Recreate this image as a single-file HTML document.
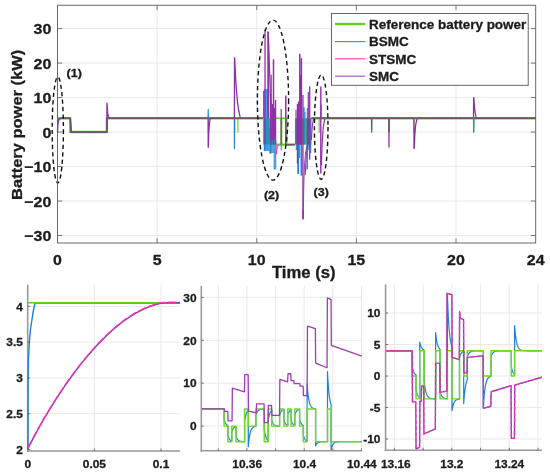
<!DOCTYPE html>
<html><head><meta charset="utf-8"><title>Battery power</title>
<style>html,body{margin:0;padding:0;background:#fff}svg{display:block}text{stroke:#1c1c1c;stroke-width:.3px}</style></head>
<body>
<svg width="550" height="476" viewBox="0 0 550 476" font-family="'Liberation Sans', sans-serif" font-weight="bold" fill="#1c1c1c">
<rect width="550" height="476" fill="#fff"/>
<line x1="157.12" y1="5.25" x2="157.12" y2="243.00" stroke="#e9e9e9" stroke-width="1" />
<line x1="256.75" y1="5.25" x2="256.75" y2="243.00" stroke="#e9e9e9" stroke-width="1" />
<line x1="356.38" y1="5.25" x2="356.38" y2="243.00" stroke="#e9e9e9" stroke-width="1" />
<line x1="456.00" y1="5.25" x2="456.00" y2="243.00" stroke="#e9e9e9" stroke-width="1" />
<line x1="57.50" y1="235.49" x2="535.70" y2="235.49" stroke="#e9e9e9" stroke-width="1" />
<line x1="57.50" y1="201.01" x2="535.70" y2="201.01" stroke="#e9e9e9" stroke-width="1" />
<line x1="57.50" y1="166.53" x2="535.70" y2="166.53" stroke="#e9e9e9" stroke-width="1" />
<line x1="57.50" y1="132.05" x2="535.70" y2="132.05" stroke="#e9e9e9" stroke-width="1" />
<line x1="57.50" y1="97.57" x2="535.70" y2="97.57" stroke="#e9e9e9" stroke-width="1" />
<line x1="57.50" y1="63.09" x2="535.70" y2="63.09" stroke="#e9e9e9" stroke-width="1" />
<line x1="57.50" y1="28.61" x2="535.70" y2="28.61" stroke="#e9e9e9" stroke-width="1" />
<g id="main-curves">
<polyline points="57.50,118.26 70.30,118.26 70.30,132.05 106.90,132.05 106.90,118.26 262.90,118.26" fill="none" stroke="#62d016" stroke-width="2.4" stroke-linejoin="round" />
<rect x="262.9" y="118.26" width="12.9" height="26.34" fill="#62d016"/>
<rect x="280.3" y="118.26" width="2" height="26.34" fill="#62d016"/>
<rect x="294.9" y="118.26" width="16.5" height="26.34" fill="#62d016"/>
<polyline points="275.50,118.26 286.70,118.26 286.70,144.60 294.90,144.60" fill="none" stroke="#62d016" stroke-width="1.6" stroke-linejoin="round" />
<polyline points="275.50,144.60 294.90,144.60" fill="none" stroke="#62d016" stroke-width="2.2" stroke-linejoin="round" />
<polyline points="311.40,118.26 535.70,118.26" fill="none" stroke="#62d016" stroke-width="2.4" stroke-linejoin="round" />
<line x1="208.20" y1="118.26" x2="208.20" y2="132.65" stroke="#62d016" stroke-width="0.8" />
<line x1="234.60" y1="118.26" x2="234.60" y2="132.65" stroke="#62d016" stroke-width="1.3" />
<line x1="237.90" y1="118.26" x2="237.90" y2="132.65" stroke="#62d016" stroke-width="1.1" />
<line x1="319.20" y1="118.26" x2="319.20" y2="132.65" stroke="#62d016" stroke-width="1.2" />
<line x1="371.60" y1="118.26" x2="371.60" y2="132.65" stroke="#62d016" stroke-width="1.2" />
<line x1="389.00" y1="118.26" x2="389.00" y2="132.65" stroke="#62d016" stroke-width="1.2" />
<line x1="414.00" y1="118.26" x2="414.00" y2="132.65" stroke="#62d016" stroke-width="1.0" />
<line x1="473.60" y1="118.26" x2="473.60" y2="132.65" stroke="#62d016" stroke-width="1.3" />
<polyline points="57.50,132.05 57.80,121.71 59.00,118.26 70.30,118.26 70.90,132.05 106.90,132.05 107.20,118.26 208.00,118.26 208.20,109.40 208.40,118.26 234.30,118.26 234.40,148.60 234.60,118.26 262.90,118.26" fill="none" stroke="#1c82d8" stroke-width="1.1" stroke-linejoin="round" />
<rect x="263.7" y="89" width="5.5" height="62" fill="#1c82d8" fill-opacity="0.8"/>
<rect x="269.2" y="128" width="6.2" height="25" fill="#1c82d8" fill-opacity="0.75"/>
<rect x="273.6" y="140" width="2.7" height="29.5" fill="#4aa0e0"/>
<line x1="264.80" y1="118.26" x2="264.80" y2="151.00" stroke="#1c82d8" stroke-width="1.4" />
<line x1="270.50" y1="118.26" x2="270.50" y2="153.70" stroke="#1c82d8" stroke-width="1.6" />
<line x1="281.20" y1="144.60" x2="281.20" y2="150.40" stroke="#1c82d8" stroke-width="1.0" />
<line x1="298.10" y1="118.26" x2="298.10" y2="174.00" stroke="#1c82d8" stroke-width="1.7" />
<line x1="301.40" y1="118.26" x2="301.40" y2="175.60" stroke="#1c82d8" stroke-width="1.7" />
<line x1="304.00" y1="107.30" x2="304.00" y2="144.60" stroke="#1c82d8" stroke-width="1.3" />
<line x1="305.00" y1="112.00" x2="305.00" y2="144.60" stroke="#1c82d8" stroke-width="1.0" />
<line x1="307.20" y1="118.26" x2="307.20" y2="169.60" stroke="#1c82d8" stroke-width="1.5" />
<line x1="310.70" y1="118.26" x2="310.70" y2="153.20" stroke="#1c82d8" stroke-width="1.1" />
<line x1="296.30" y1="118.26" x2="296.30" y2="150.00" stroke="#1c82d8" stroke-width="1.0" />
<line x1="299.60" y1="118.26" x2="299.60" y2="158.00" stroke="#1c82d8" stroke-width="1.0" />
<line x1="321.20" y1="104.40" x2="321.20" y2="118.26" stroke="#1c82d8" stroke-width="1.1" />
<line x1="308.20" y1="118.26" x2="308.20" y2="150.00" stroke="#1c82d8" stroke-width="1.0" />
<polyline points="311.40,118.26 371.50,118.26 371.60,132.05 371.80,118.26 473.50,118.26 473.60,132.05 473.90,118.26 535.70,118.26" fill="none" stroke="#1c82d8" stroke-width="1.1" stroke-linejoin="round" />
<polyline points="276.00,144.60 276.20,154.20 277.00,149.00 278.50,144.60" fill="none" stroke="#ff2fb4" stroke-width="1.0" stroke-linejoin="round" />
<line x1="302.95" y1="210.00" x2="302.95" y2="219.60" stroke="#ff2fb4" stroke-width="1.3" />
<polyline points="57.50,132.05 57.70,125.15 58.09,122.88 58.48,121.32 58.86,120.25 59.25,119.52 59.64,119.01 60.02,118.66 60.41,118.42 60.80,118.26 70.30,118.26 71.30,132.05 106.90,132.05 106.90,103.20 107.00,103.20 107.29,108.16 107.58,111.56 107.86,113.90 108.15,115.51 108.44,116.62 108.72,117.38 109.01,117.90 109.30,118.26 208.20,118.26 208.20,147.30 208.30,147.30 208.59,137.74 208.88,131.17 209.16,126.66 209.45,123.56 209.74,121.42 210.03,119.96 210.31,118.95 210.60,118.26 234.40,118.26 234.50,58.00 234.70,58.00 235.29,71.38 235.88,82.12 236.47,90.74 237.06,97.66 237.65,103.21 238.24,107.66 238.83,111.24 239.42,114.11 240.01,116.41 240.60,118.26 262.90,118.26" fill="none" stroke="#9030a8" stroke-width="1.3" stroke-linejoin="round" />
<line x1="263.70" y1="91.00" x2="263.70" y2="118.26" stroke="#9030a8" stroke-width="1.1" />
<line x1="265.05" y1="29.20" x2="265.05" y2="144.60" stroke="#9030a8" stroke-width="1.3" />
<line x1="267.90" y1="31.20" x2="267.90" y2="118.26" stroke="#9030a8" stroke-width="1.3" />
<line x1="268.60" y1="45.00" x2="268.60" y2="118.26" stroke="#9030a8" stroke-width="1.0" />
<line x1="270.60" y1="100.00" x2="270.60" y2="140.00" stroke="#9030a8" stroke-width="1.4" />
<line x1="271.20" y1="74.75" x2="271.20" y2="144.60" stroke="#9030a8" stroke-width="1.2" />
<line x1="273.50" y1="59.30" x2="273.50" y2="144.60" stroke="#9030a8" stroke-width="1.5" />
<line x1="275.50" y1="99.90" x2="275.50" y2="144.60" stroke="#9030a8" stroke-width="1.5" />
<line x1="272.50" y1="104.00" x2="272.50" y2="140.00" stroke="#9030a8" stroke-width="1.2" />
<line x1="274.60" y1="108.00" x2="274.60" y2="138.00" stroke="#9030a8" stroke-width="1.2" />
<line x1="281.20" y1="109.00" x2="281.20" y2="144.60" stroke="#9030a8" stroke-width="1.2" />
<line x1="285.80" y1="95.50" x2="285.80" y2="144.60" stroke="#9030a8" stroke-width="1.5" />
<line x1="296.00" y1="109.70" x2="296.00" y2="144.60" stroke="#9030a8" stroke-width="1.1" />
<line x1="297.40" y1="104.00" x2="297.40" y2="163.50" stroke="#9030a8" stroke-width="1.2" />
<line x1="298.50" y1="101.50" x2="298.50" y2="144.60" stroke="#9030a8" stroke-width="1.3" />
<line x1="299.80" y1="53.80" x2="299.80" y2="144.60" stroke="#9030a8" stroke-width="1.5" />
<line x1="301.40" y1="58.20" x2="301.40" y2="144.60" stroke="#9030a8" stroke-width="1.5" />
<line x1="300.60" y1="75.00" x2="300.60" y2="144.60" stroke="#9030a8" stroke-width="1.2" />
<line x1="302.95" y1="95.00" x2="302.95" y2="219.30" stroke="#9030a8" stroke-width="1.3" />
<line x1="308.30" y1="91.90" x2="308.30" y2="144.60" stroke="#9030a8" stroke-width="1.2" />
<line x1="309.70" y1="86.30" x2="309.70" y2="159.70" stroke="#9030a8" stroke-width="1.3" />
<line x1="307.30" y1="108.00" x2="307.30" y2="144.60" stroke="#9030a8" stroke-width="1.0" />
<line x1="320.80" y1="86.40" x2="320.80" y2="173.50" stroke="#9030a8" stroke-width="1.4" />
<polyline points="268.20,32.00 269.20,60.00 270.60,100.00 271.40,118.26" fill="none" stroke="#9030a8" stroke-width="1.2" stroke-linejoin="round" />
<polyline points="303.30,219.00 303.60,196.00 304.00,178.00 304.60,164.00 305.40,154.00 306.40,148.00 307.40,144.60" fill="none" stroke="#9030a8" stroke-width="0.9" stroke-linejoin="round" />
<polyline points="305.30,175.00 305.75,163.71 306.20,156.28 306.65,151.37 307.10,148.14 307.55,146.01 308.00,144.60" fill="none" stroke="#9030a8" stroke-width="1.0" stroke-linejoin="round" />
<polyline points="311.40,140.00 311.83,131.93 312.27,126.61 312.70,123.10 313.13,120.79 313.57,119.26 314.00,118.26" fill="none" stroke="#9030a8" stroke-width="1.1" stroke-linejoin="round" />
<polyline points="321.40,165.00 321.88,150.30 322.35,139.95 322.82,132.65 323.30,127.50 323.77,123.88 324.25,121.33 324.72,119.53 325.20,118.26" fill="none" stroke="#9030a8" stroke-width="1.2" stroke-linejoin="round" />
<polyline points="286.70,144.60 294.90,144.60" fill="none" stroke="#9030a8" stroke-width="1.0" stroke-linejoin="round" />
<polyline points="311.40,118.26 388.90,118.26 389.00,147.00 389.10,118.26 413.90,118.26 414.00,148.40 414.20,148.40 414.62,138.48 415.05,131.66 415.48,126.98 415.90,123.76 416.32,121.54 416.75,120.02 417.18,118.98 417.60,118.26 473.50,118.26 473.60,97.60 473.80,97.60 474.27,104.37 474.73,109.23 475.20,112.70 475.67,115.19 476.13,116.98 476.60,118.26 535.70,118.26" fill="none" stroke="#9030a8" stroke-width="1.3" stroke-linejoin="round" />
<polyline points="61.00,118.26 70.30,118.26 70.90,132.05 106.90,132.05 106.90,118.26 262.90,118.26" fill="none" stroke="#6b595d" stroke-width="1.25" stroke-linejoin="round" />
<polyline points="286.70,144.60 294.90,144.60" fill="none" stroke="#6b595d" stroke-width="1.25" stroke-linejoin="round" />
<polyline points="312.50,118.26 535.70,118.26" fill="none" stroke="#6b595d" stroke-width="1.25" stroke-linejoin="round" />
<line x1="371.60" y1="118.26" x2="371.60" y2="130.55" stroke="#6b595d" stroke-width="1.3" />
<line x1="389.00" y1="118.26" x2="389.00" y2="132.05" stroke="#6b595d" stroke-width="1.3" />
<line x1="473.60" y1="118.26" x2="473.60" y2="132.05" stroke="#2a9a7a" stroke-width="1.2" />
</g>
<ellipse cx="57.8" cy="130" rx="5.6" ry="53" fill="none" stroke="#111" stroke-width="1.4" stroke-dasharray="4.2 3.2"/>
<ellipse cx="273" cy="100.1" rx="15.6" ry="80" fill="none" stroke="#111" stroke-width="1.4" stroke-dasharray="4.2 3.2"/>
<ellipse cx="321.2" cy="127.1" rx="6.8" ry="52.2" fill="none" stroke="#111" stroke-width="1.4" stroke-dasharray="4.2 3.2"/>
<text transform="translate(74.20 76.60) scale(1.070 1)" font-size="11.68" text-anchor="middle" >(1)</text>
<text transform="translate(271.50 198.50) scale(1.070 1)" font-size="11.68" text-anchor="middle" >(2)</text>
<text transform="translate(321.20 196.00) scale(1.070 1)" font-size="11.68" text-anchor="middle" >(3)</text>
<rect x="57.50" y="5.25" width="478.20" height="237.75" fill="none" stroke="#5a5a5a" stroke-width="0.9"/>
<text transform="translate(57.50 265.20) scale(1.070 1)" font-size="14.95" text-anchor="middle" >0</text>
<line x1="157.12" y1="243.00" x2="157.12" y2="238.20" stroke="#5a5a5a" stroke-width="0.8" />
<line x1="157.12" y1="5.25" x2="157.12" y2="10.05" stroke="#5a5a5a" stroke-width="0.8" />
<text transform="translate(157.12 265.20) scale(1.070 1)" font-size="14.95" text-anchor="middle" >5</text>
<line x1="256.75" y1="243.00" x2="256.75" y2="238.20" stroke="#5a5a5a" stroke-width="0.8" />
<line x1="256.75" y1="5.25" x2="256.75" y2="10.05" stroke="#5a5a5a" stroke-width="0.8" />
<text transform="translate(256.75 265.20) scale(1.070 1)" font-size="14.95" text-anchor="middle" >10</text>
<line x1="356.38" y1="243.00" x2="356.38" y2="238.20" stroke="#5a5a5a" stroke-width="0.8" />
<line x1="356.38" y1="5.25" x2="356.38" y2="10.05" stroke="#5a5a5a" stroke-width="0.8" />
<text transform="translate(356.38 265.20) scale(1.070 1)" font-size="14.95" text-anchor="middle" >15</text>
<line x1="456.00" y1="243.00" x2="456.00" y2="238.20" stroke="#5a5a5a" stroke-width="0.8" />
<line x1="456.00" y1="5.25" x2="456.00" y2="10.05" stroke="#5a5a5a" stroke-width="0.8" />
<text transform="translate(456.00 265.20) scale(1.070 1)" font-size="14.95" text-anchor="middle" >20</text>
<text transform="translate(535.70 265.20) scale(1.070 1)" font-size="14.95" text-anchor="middle" >24</text>
<line x1="57.50" y1="235.49" x2="62.30" y2="235.49" stroke="#5a5a5a" stroke-width="0.8" />
<line x1="535.70" y1="235.49" x2="530.90" y2="235.49" stroke="#5a5a5a" stroke-width="0.8" />
<text transform="translate(51.30 241.09) scale(1.070 1)" font-size="14.95" text-anchor="end" >−30</text>
<line x1="57.50" y1="201.01" x2="62.30" y2="201.01" stroke="#5a5a5a" stroke-width="0.8" />
<line x1="535.70" y1="201.01" x2="530.90" y2="201.01" stroke="#5a5a5a" stroke-width="0.8" />
<text transform="translate(51.30 206.61) scale(1.070 1)" font-size="14.95" text-anchor="end" >−20</text>
<line x1="57.50" y1="166.53" x2="62.30" y2="166.53" stroke="#5a5a5a" stroke-width="0.8" />
<line x1="535.70" y1="166.53" x2="530.90" y2="166.53" stroke="#5a5a5a" stroke-width="0.8" />
<text transform="translate(51.30 172.13) scale(1.070 1)" font-size="14.95" text-anchor="end" >−10</text>
<line x1="57.50" y1="132.05" x2="62.30" y2="132.05" stroke="#5a5a5a" stroke-width="0.8" />
<line x1="535.70" y1="132.05" x2="530.90" y2="132.05" stroke="#5a5a5a" stroke-width="0.8" />
<text transform="translate(51.30 137.65) scale(1.070 1)" font-size="14.95" text-anchor="end" >0</text>
<line x1="57.50" y1="97.57" x2="62.30" y2="97.57" stroke="#5a5a5a" stroke-width="0.8" />
<line x1="535.70" y1="97.57" x2="530.90" y2="97.57" stroke="#5a5a5a" stroke-width="0.8" />
<text transform="translate(51.30 103.17) scale(1.070 1)" font-size="14.95" text-anchor="end" >10</text>
<line x1="57.50" y1="63.09" x2="62.30" y2="63.09" stroke="#5a5a5a" stroke-width="0.8" />
<line x1="535.70" y1="63.09" x2="530.90" y2="63.09" stroke="#5a5a5a" stroke-width="0.8" />
<text transform="translate(51.30 68.69) scale(1.070 1)" font-size="14.95" text-anchor="end" >20</text>
<line x1="57.50" y1="28.61" x2="62.30" y2="28.61" stroke="#5a5a5a" stroke-width="0.8" />
<line x1="535.70" y1="28.61" x2="530.90" y2="28.61" stroke="#5a5a5a" stroke-width="0.8" />
<text transform="translate(51.30 34.21) scale(1.070 1)" font-size="14.95" text-anchor="end" >30</text>
<text transform="translate(303.80 278.30) scale(1.070 1)" font-size="15.61" text-anchor="middle" >Time (s)</text>
<text transform="translate(22.4,124.8) rotate(-90) scale(1.070 1)" font-size="15.42" text-anchor="middle">Battery power (kW)</text>
<rect x="331.5" y="13.6" width="196.7" height="71.7" fill="#fff" stroke="#555" stroke-width="0.9"/>
<line x1="335.00" y1="24.00" x2="365.20" y2="24.00" stroke="#62d016" stroke-width="2.3" />
<text transform="translate(369.00 28.80) scale(1.070 1)" font-size="12.62" text-anchor="start" >Reference battery power</text>
<line x1="335.00" y1="41.60" x2="365.20" y2="41.60" stroke="#3d96dc" stroke-width="1.2" />
<text transform="translate(369.00 46.40) scale(1.070 1)" font-size="12.62" text-anchor="start" >BSMC</text>
<line x1="335.00" y1="58.80" x2="365.20" y2="58.80" stroke="#ff46b8" stroke-width="1.2" />
<text transform="translate(369.00 63.60) scale(1.070 1)" font-size="12.62" text-anchor="start" >STSMC</text>
<line x1="335.00" y1="76.20" x2="365.20" y2="76.20" stroke="#a55cc4" stroke-width="1.2" />
<text transform="translate(369.00 81.00) scale(1.070 1)" font-size="12.62" text-anchor="start" >SMC</text>
<line x1="94.35" y1="284.60" x2="94.35" y2="451.00" stroke="#e9e9e9" stroke-width="1" />
<line x1="161.00" y1="284.60" x2="161.00" y2="451.00" stroke="#e9e9e9" stroke-width="1" />
<line x1="27.70" y1="413.70" x2="180.00" y2="413.70" stroke="#e9e9e9" stroke-width="1" />
<line x1="27.70" y1="377.90" x2="180.00" y2="377.90" stroke="#e9e9e9" stroke-width="1" />
<line x1="27.70" y1="342.10" x2="180.00" y2="342.10" stroke="#e9e9e9" stroke-width="1" />
<line x1="27.70" y1="306.30" x2="180.00" y2="306.30" stroke="#e9e9e9" stroke-width="1" />
<line x1="27.70" y1="284.60" x2="27.70" y2="451.80" stroke="#9a9a9a" stroke-width="1.6" />
<line x1="26.90" y1="451.00" x2="180.00" y2="451.00" stroke="#9a9a9a" stroke-width="1.6" />
<polyline points="28.00,449.50 28.10,378.00 28.40,360.00 29.40,341.00 30.40,330.00 31.60,322.00 33.00,313.00 34.30,306.00 35.20,303.00 36.00,303.02 60.00,303.02 180.00,303.02" fill="none" stroke="#1c82d8" stroke-width="1.4" stroke-linejoin="round" />
<line x1="27.70" y1="302.72" x2="180.00" y2="302.72" stroke="#62d016" stroke-width="1.6" />
<path d="M27.70 448.82 L29.70 444.92 L31.70 441.09 L33.70 437.32 L35.70 433.62 L37.70 429.97 L39.70 426.39 L41.70 422.86 L43.70 419.39 L45.70 415.98 L47.70 412.62 L49.70 409.32 L51.70 406.07 L53.70 402.87 L55.70 399.72 L57.70 396.62 L59.70 393.57 L61.70 390.57 L63.70 387.62 L65.70 384.71 L67.70 381.85 L69.70 379.04 L71.70 376.28 L73.70 373.56 L75.70 370.89 L77.70 368.27 L79.70 365.69 L81.70 363.16 L83.70 360.67 L85.70 358.23 L87.70 355.84 L89.70 353.50 L91.70 351.20 L93.70 348.95 L95.70 346.74 L97.70 344.58 L99.70 342.48 L101.70 340.42 L103.70 338.40 L105.70 336.44 L107.70 334.53 L109.70 332.67 L111.70 330.85 L113.70 329.09 L115.70 327.38 L117.70 325.72 L119.70 324.12 L121.70 322.56 L123.70 321.06 L125.70 319.62 L127.70 318.23 L129.70 316.89 L131.70 315.60 L133.70 314.38 L135.70 313.20 L137.70 312.09 L139.70 311.03 L141.70 310.03 L143.70 309.08 L145.70 308.19 L147.70 307.36 L149.70 306.59 L151.70 305.87 L153.70 305.22 L155.70 304.62 L157.70 304.08 L159.70 303.59 L161.70 303.17 L163.70 302.87 L165.70 302.87 L168.50 302.82 L180.00 302.72" fill="none" stroke="#7a3ab0" stroke-width="1.4"/>
<path d="M27.70 448.32 L29.70 444.42 L31.70 440.59 L33.70 436.82 L35.70 433.12 L37.70 429.47 L39.70 425.89 L41.70 422.36 L43.70 418.89 L45.70 415.48 L47.70 412.12 L49.70 408.82 L51.70 405.57 L53.70 402.37 L55.70 399.22 L57.70 396.12 L59.70 393.07 L61.70 390.07 L63.70 387.12 L65.70 384.21 L67.70 381.35 L69.70 378.54 L71.70 375.78 L73.70 373.06 L75.70 370.39 L77.70 367.77 L79.70 365.19 L81.70 362.66 L83.70 360.17 L85.70 357.73 L87.70 355.34 L89.70 353.00 L91.70 350.70 L93.70 348.45 L95.70 346.24 L97.70 344.08 L99.70 341.98 L101.70 339.92 L103.70 337.90 L105.70 335.94 L107.70 334.03 L109.70 332.17 L111.70 330.35 L113.70 328.59 L115.70 326.88 L117.70 325.22 L119.70 323.62 L121.70 322.06 L123.70 320.56 L125.70 319.12 L127.70 317.73 L129.70 316.39 L131.70 315.10 L133.70 313.88 L135.70 312.70 L137.70 311.59 L139.70 310.53 L141.70 309.53 L143.70 308.58 L145.70 307.69 L147.70 306.86 L149.70 306.09 L151.70 305.37 L153.70 304.72 L155.70 304.12 L157.70 303.58 L159.70 303.09 L161.70 302.67 L163.70 302.37 L165.70 302.37 L168.50 302.32 L180.00 302.22" fill="none" stroke="#ff2fb4" stroke-width="1.4" stroke-dasharray="8 2.5"/>
<line x1="27.70" y1="449.50" x2="30.20" y2="449.50" stroke="#555" stroke-width="0.8" />
<text transform="translate(22.80 453.70) scale(1.044 1)" font-size="11.40" text-anchor="end" >2</text>
<line x1="27.70" y1="413.70" x2="30.20" y2="413.70" stroke="#555" stroke-width="0.8" />
<text transform="translate(22.80 417.90) scale(1.044 1)" font-size="11.40" text-anchor="end" >2.5</text>
<line x1="27.70" y1="377.90" x2="30.20" y2="377.90" stroke="#555" stroke-width="0.8" />
<text transform="translate(22.80 382.10) scale(1.044 1)" font-size="11.40" text-anchor="end" >3</text>
<line x1="27.70" y1="342.10" x2="30.20" y2="342.10" stroke="#555" stroke-width="0.8" />
<text transform="translate(22.80 346.30) scale(1.044 1)" font-size="11.40" text-anchor="end" >3.5</text>
<line x1="27.70" y1="306.30" x2="30.20" y2="306.30" stroke="#555" stroke-width="0.8" />
<text transform="translate(22.80 310.50) scale(1.044 1)" font-size="11.40" text-anchor="end" >4</text>
<text transform="translate(27.70 467.80) scale(1.044 1)" font-size="11.40" text-anchor="middle" >0</text>
<line x1="94.35" y1="451.00" x2="94.35" y2="448.50" stroke="#555" stroke-width="0.8" />
<text transform="translate(94.35 467.80) scale(1.044 1)" font-size="11.40" text-anchor="middle" >0.05</text>
<line x1="161.00" y1="451.00" x2="161.00" y2="448.50" stroke="#555" stroke-width="0.8" />
<text transform="translate(161.00 467.80) scale(1.044 1)" font-size="11.40" text-anchor="middle" >0.1</text>
<line x1="218.25" y1="285.80" x2="218.25" y2="450.80" stroke="#e9e9e9" stroke-width="1" />
<line x1="246.90" y1="285.80" x2="246.90" y2="450.80" stroke="#e9e9e9" stroke-width="1" />
<line x1="275.55" y1="285.80" x2="275.55" y2="450.80" stroke="#e9e9e9" stroke-width="1" />
<line x1="304.20" y1="285.80" x2="304.20" y2="450.80" stroke="#e9e9e9" stroke-width="1" />
<line x1="332.85" y1="285.80" x2="332.85" y2="450.80" stroke="#e9e9e9" stroke-width="1" />
<line x1="361.50" y1="285.80" x2="361.50" y2="450.80" stroke="#e9e9e9" stroke-width="1" />
<line x1="201.30" y1="426.10" x2="362.00" y2="426.10" stroke="#e9e9e9" stroke-width="1" />
<line x1="201.30" y1="383.20" x2="362.00" y2="383.20" stroke="#e9e9e9" stroke-width="1" />
<line x1="201.30" y1="340.30" x2="362.00" y2="340.30" stroke="#e9e9e9" stroke-width="1" />
<line x1="201.30" y1="297.40" x2="362.00" y2="297.40" stroke="#e9e9e9" stroke-width="1" />
<polyline points="201.30,408.94 201.30,408.94 201.71,408.94 202.11,408.94 202.52,408.94 202.93,408.94 203.34,408.94 203.74,408.94 204.15,408.94 204.56,408.94 204.96,408.94 205.37,408.94 205.78,408.94 206.19,408.94 206.59,408.94 207.00,408.94 207.41,408.94 207.81,408.94 208.22,408.94 208.63,408.94 209.04,408.94 209.44,408.94 209.85,408.94 210.26,408.94 210.66,408.94 211.07,408.94 211.48,408.94 211.89,408.94 212.29,408.94 212.70,408.94 213.11,408.94 213.51,408.94 213.92,408.94 214.33,408.94 214.74,408.94 215.14,408.94 215.55,408.94 215.96,408.94 216.36,408.94 216.77,408.94 217.18,408.94 217.59,408.94 217.99,408.94 218.40,408.94 218.81,408.94 219.21,408.94 219.62,408.94 220.03,408.94 220.44,408.94 220.84,408.94 221.25,408.94 221.66,408.94 222.06,408.94 222.47,408.94 222.88,408.94 223.29,408.94 223.69,408.94 224.10,408.94 224.10,408.94 224.10,419.58 224.52,421.01 224.94,422.13 225.37,423.00 225.79,423.69 226.21,424.22 226.63,424.63 227.06,424.95 227.48,425.21 227.90,425.40 227.90,425.40 227.90,435.49 228.33,436.88 228.77,437.96 229.20,438.79 229.63,439.44 230.07,439.94 230.50,440.33 230.93,440.63 231.37,440.87 231.80,441.05 231.80,441.05 231.80,431.78 232.22,430.54 232.64,429.57 233.06,428.81 233.48,428.21 233.90,427.75 234.32,427.39 234.74,427.11 235.16,426.89 235.58,426.71 236.00,426.58 236.00,426.58 236.00,435.94 236.41,437.17 236.82,438.13 237.23,438.89 237.64,439.48 238.05,439.95 238.46,440.32 238.87,440.61 239.28,440.84 239.69,441.02 240.10,441.16 240.50,441.27 240.91,441.35 241.32,441.42 241.73,441.48 242.14,441.52 242.55,441.55 242.96,441.58 243.37,441.60 243.78,441.61 244.19,441.63 244.60,441.64 244.60,441.64 244.60,421.36 245.01,418.70 245.42,416.60 245.83,414.95 246.24,413.66 246.66,412.65 247.07,411.85 247.48,411.23 247.89,410.74 248.30,410.35 248.30,410.35 248.30,446.69 248.72,442.16 249.14,438.63 249.57,435.87 249.99,433.73 250.41,432.05 250.83,430.74 251.26,429.72 251.68,428.92 252.10,428.30 252.52,427.82 252.94,427.44 253.37,427.15 253.79,426.92 254.21,426.74 254.63,426.60 255.06,426.49 255.48,426.40 255.90,426.34 255.90,426.34 255.90,415.55 256.31,414.12 256.73,413.00 257.14,412.12 257.56,411.43 257.98,410.89 258.39,410.47 258.81,410.14 259.22,409.88 259.63,409.67 260.05,409.52 260.46,409.39 260.88,409.29 261.30,409.22 261.71,409.16 262.12,409.11 262.54,409.07 262.95,409.04 263.37,409.02 263.78,409.00 264.20,408.99 264.20,408.99 264.20,429.25 264.60,431.86 265.00,433.92 265.40,435.54 265.80,436.83 266.20,437.84 266.60,438.65 267.00,439.28 267.40,439.78 267.80,440.18 268.20,440.49 268.20,440.49 268.20,420.93 268.64,418.21 269.07,416.11 269.51,414.48 269.95,413.22 270.39,412.25 270.82,411.50 271.26,410.92 271.70,410.47 271.70,410.47 271.70,420.16 272.12,421.45 272.53,422.46 272.95,423.25 273.36,423.87 273.78,424.35 274.19,424.73 274.61,425.03 275.03,425.26 275.44,425.44 275.86,425.59 276.27,425.70 276.69,425.78 277.11,425.85 277.52,425.91 277.94,425.95 278.35,425.98 278.77,426.01 279.18,426.03 279.60,426.04 279.60,426.04 279.60,415.44 280.03,413.99 280.46,412.86 280.89,411.98 281.32,411.30 281.75,410.77 282.18,410.36 282.61,410.05 283.04,409.80 283.47,409.61 283.90,409.46 283.90,409.46 283.90,419.78 284.32,421.17 284.74,422.25 285.17,423.10 285.59,423.76 286.01,424.27 286.43,424.68 286.86,424.99 287.28,425.23 287.70,425.42 287.70,425.42 287.70,415.20 288.12,413.82 288.55,412.74 288.98,411.90 289.40,411.24 289.82,410.73 290.25,410.34 290.68,410.03 291.10,409.79 291.10,409.79 291.10,419.90 291.51,421.23 291.92,422.28 292.33,423.10 292.74,423.74 293.16,424.25 293.57,424.65 293.98,424.96 294.39,425.20 294.80,425.40 294.80,425.40 294.80,415.19 295.20,413.88 295.60,412.85 296.00,412.03 296.40,411.38 296.80,410.87 297.20,410.46 297.60,410.14 298.00,409.89 298.40,409.69 298.80,409.53 299.20,409.41 299.60,409.31 299.60,409.31 299.60,419.72 300.01,421.09 300.42,422.17 300.83,423.01 301.24,423.68 301.66,424.20 302.07,424.60 302.48,424.93 302.89,425.18 303.30,425.38 303.30,425.38 303.30,435.48 303.72,436.84 304.14,437.90 304.57,438.73 304.99,439.38 305.41,439.88 305.83,440.28 306.26,440.58 306.68,440.82 307.10,441.01 307.10,441.01 307.10,384.06 307.50,389.33 307.91,393.48 308.31,396.76 308.72,399.34 309.12,401.37 309.53,402.98 309.93,404.24 310.34,405.24 310.74,406.02 311.15,406.64 311.55,407.13 311.96,407.51 312.36,407.81 312.77,408.05 313.17,408.24 313.58,408.39 313.98,408.51 314.39,408.60 314.79,408.67 315.20,408.73 315.60,408.77 315.60,408.77 315.60,445.83 316.01,444.94 316.42,444.24 316.83,443.69 317.24,443.26 317.65,442.92 318.06,442.65 318.47,442.44 318.88,442.28 319.29,442.15 319.70,442.05 320.11,441.97 320.52,441.90 320.93,441.85 321.34,441.81 321.76,441.78 322.17,441.76 322.58,441.74 322.99,441.73 323.40,441.72 323.81,441.71 324.22,441.70 324.63,441.69 325.04,441.69 325.45,441.69 325.86,441.68 326.27,441.68 326.68,441.68 327.09,441.68 327.50,441.68 327.50,441.68 327.50,371.62 327.90,379.44 328.30,385.63 328.70,390.51 329.10,394.38 329.50,397.43 329.90,399.84 330.30,401.75 330.70,403.26 331.10,404.45 331.10,404.45 331.10,450.12 331.50,448.35 331.90,446.94 332.30,445.84 332.71,444.96 333.11,444.27 333.51,443.72 333.91,443.29 334.31,442.95 334.71,442.68 335.11,442.47 335.51,442.30 335.92,442.17 336.32,442.07 336.72,441.98 337.12,441.92 337.52,441.87 337.92,441.83 338.32,441.79 338.72,441.77 339.13,441.75 339.53,441.73 339.93,441.72 340.33,441.71 340.73,441.70 341.13,441.70 341.53,441.69 341.94,441.69 342.34,441.68 342.74,441.68 343.14,441.68 343.54,441.68 343.94,441.68 344.34,441.68 344.74,441.68 345.15,441.67 345.55,441.67 345.95,441.67 346.35,441.67 346.75,441.67 347.15,441.67 347.55,441.67 347.95,441.67 348.36,441.67 348.76,441.67 349.16,441.67 349.56,441.67 349.96,441.67 350.36,441.67 350.76,441.67 351.16,441.67 351.57,441.67 351.97,441.67 352.37,441.67 352.77,441.67 353.17,441.67 353.57,441.67 353.97,441.67 354.38,441.67 354.78,441.67 355.18,441.67 355.58,441.67 355.98,441.67 356.38,441.67 356.78,441.67 357.18,441.67 357.59,441.67 357.99,441.67 358.39,441.67 358.79,441.67 359.19,441.67 359.59,441.67 359.99,441.67 360.39,441.67 360.80,441.67 361.20,441.67 361.60,441.67 362.00,441.67" fill="none" stroke="#1c82d8" stroke-width="1.2" stroke-linejoin="round" />
<polyline points="201.30,408.94 224.10,408.94 224.10,426.10 227.90,426.10 227.90,441.67 231.80,441.67 231.80,426.10 236.00,426.10 236.00,441.67 244.60,441.67 244.60,408.94 248.30,408.94 248.30,426.10 255.90,426.10 255.90,408.94 264.20,408.94 264.20,441.67 268.20,441.67 268.20,408.94 271.70,408.94 271.70,426.10 279.60,426.10 279.60,408.94 283.90,408.94 283.90,426.10 287.70,426.10 287.70,408.94 291.10,408.94 291.10,426.10 294.80,426.10 294.80,408.94 299.60,408.94 299.60,426.10 303.30,426.10 303.30,441.67 307.10,441.67 307.10,408.94 315.60,408.94 315.60,441.67 327.50,441.67 327.50,408.94 331.10,408.94 331.10,441.67 362.00,441.67" fill="none" stroke="#6ed824" stroke-width="1.45" stroke-linejoin="round" />
<polyline points="201.45,408.94 224.35,408.94 224.65,411.30 227.75,411.30 228.05,420.95 232.05,420.95 232.35,388.13 244.45,391.78 244.75,374.62 248.15,374.62 248.45,411.09 256.25,412.80 256.55,403.79 264.05,403.79 264.35,422.67 268.05,422.67 268.35,405.51 271.55,405.51 271.85,415.38 279.55,415.38 279.85,379.34 287.65,381.91 287.95,373.76 290.75,373.76 291.05,380.63 293.85,380.63 294.15,383.63 299.85,383.63 300.15,386.20 303.15,386.20 303.45,395.64 307.15,395.64 307.45,326.14 315.35,328.72 315.65,363.04 327.05,367.76 327.35,297.83 331.05,299.55 331.35,345.45 361.85,356.17" fill="none" stroke="#a03cb4" stroke-width="1.3" stroke-linejoin="round" />
<line x1="201.30" y1="285.80" x2="201.30" y2="451.60" stroke="#9a9a9a" stroke-width="1.6" />
<line x1="200.50" y1="450.80" x2="362.00" y2="450.80" stroke="#9a9a9a" stroke-width="1.6" />
<line x1="201.30" y1="426.10" x2="203.80" y2="426.10" stroke="#555" stroke-width="0.8" />
<text transform="translate(196.60 430.30) scale(1.044 1)" font-size="11.40" text-anchor="end" >0</text>
<line x1="201.30" y1="383.20" x2="203.80" y2="383.20" stroke="#555" stroke-width="0.8" />
<text transform="translate(196.60 387.40) scale(1.044 1)" font-size="11.40" text-anchor="end" >10</text>
<line x1="201.30" y1="340.30" x2="203.80" y2="340.30" stroke="#555" stroke-width="0.8" />
<text transform="translate(196.60 344.50) scale(1.044 1)" font-size="11.40" text-anchor="end" >20</text>
<line x1="201.30" y1="297.40" x2="203.80" y2="297.40" stroke="#555" stroke-width="0.8" />
<text transform="translate(196.60 301.60) scale(1.044 1)" font-size="11.40" text-anchor="end" >30</text>
<line x1="218.25" y1="450.80" x2="218.25" y2="448.30" stroke="#555" stroke-width="0.8" />
<line x1="246.90" y1="450.80" x2="246.90" y2="448.30" stroke="#555" stroke-width="0.8" />
<line x1="275.55" y1="450.80" x2="275.55" y2="448.30" stroke="#555" stroke-width="0.8" />
<line x1="304.20" y1="450.80" x2="304.20" y2="448.30" stroke="#555" stroke-width="0.8" />
<line x1="332.85" y1="450.80" x2="332.85" y2="448.30" stroke="#555" stroke-width="0.8" />
<line x1="361.50" y1="450.80" x2="361.50" y2="448.30" stroke="#555" stroke-width="0.8" />
<text transform="translate(247.20 467.80) scale(1.044 1)" font-size="11.40" text-anchor="middle" >10.36</text>
<text transform="translate(304.50 467.80) scale(1.044 1)" font-size="11.40" text-anchor="middle" >10.4</text>
<text transform="translate(361.80 467.80) scale(1.044 1)" font-size="11.40" text-anchor="middle" >10.44</text>
<line x1="394.40" y1="284.40" x2="394.40" y2="450.30" stroke="#e9e9e9" stroke-width="1" />
<line x1="423.12" y1="284.40" x2="423.12" y2="450.30" stroke="#e9e9e9" stroke-width="1" />
<line x1="451.84" y1="284.40" x2="451.84" y2="450.30" stroke="#e9e9e9" stroke-width="1" />
<line x1="480.56" y1="284.40" x2="480.56" y2="450.30" stroke="#e9e9e9" stroke-width="1" />
<line x1="509.28" y1="284.40" x2="509.28" y2="450.30" stroke="#e9e9e9" stroke-width="1" />
<line x1="538.00" y1="284.40" x2="538.00" y2="450.30" stroke="#e9e9e9" stroke-width="1" />
<line x1="385.60" y1="439.00" x2="542.00" y2="439.00" stroke="#e9e9e9" stroke-width="1" />
<line x1="385.60" y1="407.50" x2="542.00" y2="407.50" stroke="#e9e9e9" stroke-width="1" />
<line x1="385.60" y1="376.00" x2="542.00" y2="376.00" stroke="#e9e9e9" stroke-width="1" />
<line x1="385.60" y1="344.50" x2="542.00" y2="344.50" stroke="#e9e9e9" stroke-width="1" />
<line x1="385.60" y1="313.00" x2="542.00" y2="313.00" stroke="#e9e9e9" stroke-width="1" />
<polyline points="385.60,350.80 385.60,350.80 386.00,350.80 386.41,350.80 386.81,350.80 387.21,350.80 387.62,350.80 388.02,350.80 388.42,350.80 388.82,350.80 389.23,350.80 389.63,350.80 390.03,350.80 390.44,350.80 390.84,350.80 391.24,350.80 391.65,350.80 392.05,350.80 392.45,350.80 392.85,350.80 393.26,350.80 393.66,350.80 394.06,350.80 394.47,350.80 394.87,350.80 395.27,350.80 395.68,350.80 396.08,350.80 396.48,350.80 396.88,350.80 397.29,350.80 397.69,350.80 398.09,350.80 398.50,350.80 398.90,350.80 399.30,350.80 399.71,350.80 400.11,350.80 400.51,350.80 400.92,350.80 401.32,350.80 401.72,350.80 402.12,350.80 402.53,350.80 402.93,350.80 403.33,350.80 403.74,350.80 404.14,350.80 404.54,350.80 404.95,350.80 405.35,350.80 405.75,350.80 406.15,350.80 406.56,350.80 406.96,350.80 407.36,350.80 407.77,350.80 408.17,350.80 408.57,350.80 408.98,350.80 409.38,350.80 409.78,350.80 410.18,350.80 410.59,350.80 410.99,350.80 411.39,350.80 411.80,350.80 412.20,350.80 412.20,350.80 412.20,366.42 412.62,368.43 413.04,370.01 413.47,371.26 413.89,372.25 414.31,373.04 414.73,373.66 415.16,374.15 415.58,374.53 416.00,374.84 416.00,374.84 416.00,389.74 416.42,391.62 416.83,393.12 417.25,394.31 417.67,395.25 418.08,396.00 418.50,396.59 418.92,397.06 419.33,397.44 419.75,397.73 419.75,397.73 419.75,341.98 420.19,343.87 420.62,345.36 421.06,346.53 421.49,347.45 421.93,348.17 422.36,348.73 422.80,349.18 423.23,349.52 423.67,349.80 424.10,350.01 424.10,350.01 424.10,380.30 424.51,384.09 424.92,387.11 425.33,389.51 425.74,391.42 426.15,392.94 426.56,394.15 426.98,395.11 427.39,395.88 427.80,396.49 428.21,396.97 428.62,397.36 429.03,397.67 429.44,397.91 429.85,398.11 430.26,398.26 430.67,398.39 431.08,398.49 431.49,398.56 431.90,398.63 432.31,398.68 432.73,398.71 433.14,398.75 433.55,398.77 433.96,398.79 434.37,398.81 434.78,398.82 435.19,398.83 435.60,398.84 435.60,398.84 435.60,332.53 436.04,336.49 436.48,339.59 436.92,342.02 437.36,343.93 437.80,345.42 438.24,346.59 438.68,347.50 439.12,348.22 439.56,348.78 440.00,349.21 440.00,349.21 440.00,391.12 440.41,392.70 440.82,393.96 441.23,394.96 441.64,395.76 442.06,396.40 442.47,396.90 442.88,397.30 443.29,397.62 443.70,397.88 444.11,398.08 444.52,398.24 444.93,398.37 445.34,398.47 445.76,398.55 446.17,398.62 446.58,398.67 446.99,398.71 447.40,398.74 447.40,398.74 447.40,294.10 447.82,305.85 448.24,315.17 448.65,322.56 449.07,328.41 449.49,333.05 449.91,336.73 450.33,339.65 450.75,341.96 451.16,343.79 451.58,345.25 452.00,346.40 452.00,346.40 452.00,410.65 452.42,408.22 452.83,406.28 453.25,404.75 453.67,403.54 454.08,402.57 454.50,401.81 454.92,401.20 455.33,400.72 455.75,400.34 456.17,400.03 456.58,399.79 457.00,399.60 457.42,399.45 457.83,399.33 458.25,399.23 458.67,399.16 459.08,399.10 459.50,399.05 459.50,399.05 459.50,357.10 459.92,355.79 460.34,354.75 460.76,353.93 461.18,353.28 461.60,352.76 462.02,352.35 462.44,352.03 462.86,351.77 463.28,351.57 463.70,351.41 463.70,351.41 463.70,403.72 464.10,398.20 464.50,393.77 464.90,390.23 465.30,387.40 465.70,385.13 466.10,383.31 466.50,381.85 466.90,380.69 467.30,379.75 467.30,379.75 467.30,357.10 467.70,355.84 468.10,354.84 468.50,354.03 468.90,353.39 469.30,352.87 469.70,352.46 470.10,352.13 470.50,351.86 470.90,351.65 471.30,351.48 471.70,351.35 472.10,351.24 472.50,351.15 472.90,351.08 473.30,351.02 473.70,350.98 474.10,350.94 474.50,350.92 474.90,350.89 475.30,350.87 475.70,350.86 476.10,350.85 476.50,350.84 476.90,350.83 477.30,350.82 477.70,350.82 478.10,350.82 478.50,350.81 478.90,350.81 479.30,350.81 479.70,350.81 480.10,350.81 480.50,350.80 480.90,350.80 481.30,350.80 481.70,350.80 482.10,350.80 482.50,350.80 482.90,350.80 483.30,350.80 483.30,350.80 483.30,407.50 483.71,401.15 484.11,396.08 484.52,392.03 484.92,388.80 485.33,386.22 485.73,384.16 486.14,382.51 486.54,381.20 486.95,380.15 487.35,379.32 487.76,378.65 488.16,378.11 488.57,377.69 488.97,377.35 489.38,377.08 489.78,376.86 490.19,376.69 490.59,376.55 491.00,376.44 491.00,376.44 491.00,357.10 491.41,355.83 491.81,354.81 492.22,354.00 492.62,353.36 493.03,352.84 493.44,352.43 493.84,352.10 494.25,351.84 494.65,351.63 495.06,351.46 495.47,351.33 495.87,351.22 496.28,351.14 496.68,351.07 497.09,351.01 497.50,350.97 497.90,350.94 498.31,350.91 498.71,350.89 499.12,350.87 499.53,350.86 499.93,350.84 500.34,350.84 500.74,350.83 501.15,350.82 501.56,350.82 501.96,350.81 502.37,350.81 502.77,350.81 503.18,350.81 503.59,350.81 503.99,350.80 504.40,350.80 504.80,350.80 505.21,350.80 505.62,350.80 506.02,350.80 506.43,350.80 506.83,350.80 507.24,350.80 507.65,350.80 508.05,350.80 508.46,350.80 508.86,350.80 509.27,350.80 509.68,350.80 510.08,350.80 510.49,350.80 510.89,350.80 511.30,350.80 511.30,350.80 511.30,366.42 511.71,368.39 512.12,369.94 512.54,371.18 512.95,372.17 513.36,372.96 513.77,373.58 514.19,374.07 514.60,374.47 514.60,374.47 514.60,325.60 515.00,330.65 515.41,334.69 515.81,337.93 516.21,340.51 516.61,342.57 517.02,344.22 517.42,345.54 517.82,346.60 518.23,347.44 518.63,348.11 519.03,348.65 519.44,349.08 519.84,349.43 520.24,349.70 520.64,349.92 521.05,350.10 521.45,350.24 521.85,350.35 522.26,350.44 522.66,350.51 523.06,350.57 523.46,350.62 523.87,350.65 524.27,350.68 524.67,350.71 525.08,350.73 525.48,350.74 525.88,350.75 526.29,350.76 526.69,350.77 527.09,350.78 527.49,350.78 527.90,350.78 528.30,350.79 528.70,350.79 529.11,350.79 529.51,350.79 529.91,350.79 530.31,350.80 530.72,350.80 531.12,350.80 531.52,350.80 531.93,350.80 532.33,350.80 532.73,350.80 533.14,350.80 533.54,350.80 533.94,350.80 534.34,350.80 534.75,350.80 535.15,350.80 535.55,350.80 535.96,350.80 536.36,350.80 536.76,350.80 537.16,350.80 537.57,350.80 537.97,350.80 538.37,350.80 538.78,350.80 539.18,350.80 539.58,350.80 539.99,350.80 540.39,350.80 540.79,350.80 541.19,350.80 541.60,350.80 542.00,350.80" fill="none" stroke="#1c82d8" stroke-width="1.2" stroke-linejoin="round" />
<polyline points="385.60,350.80 412.20,350.80 412.20,376.00 416.00,376.00 416.00,398.87 419.75,398.87 419.75,350.80 424.10,350.80 424.10,398.87 435.60,398.87 435.60,350.80 440.00,350.80 440.00,398.87 447.40,398.87 447.40,350.80 452.00,350.80 452.00,398.87 459.50,398.87 459.50,350.80 463.70,350.80 463.70,376.00 467.30,376.00 467.30,350.80 483.30,350.80 483.30,376.00 491.00,376.00 491.00,350.80 511.30,350.80 511.30,376.00 514.60,376.00 514.60,350.80 542.00,350.80" fill="none" stroke="#6ed824" stroke-width="1.45" stroke-linejoin="round" />
<path d="M385.75 350.80 L412.15 350.80 L412.45 401.83 L415.75 401.83 L416.05 449.08 L419.60 447.19 L419.90 401.20 L421.25 401.20 L421.55 386.08 L423.65 386.08 L423.95 433.96 L435.35 428.92 L435.65 363.40 L439.75 363.40 L440.05 392.38 L446.75 391.12 L447.05 293.47 L451.85 294.73 L452.15 357.42 L459.35 359.62 L459.60 311.74 L460.20 318.04 L459.65 318.04 L463.55 319.30 L463.85 372.85 L467.15 372.85 L467.45 357.42 L483.15 355.84 L483.45 408.44 L490.85 406.24 L491.15 391.75 L511.05 385.76 L511.35 438.37 L514.45 438.37 L514.75 385.13 L541.85 377.26" fill="none" stroke="#8a3cb8" stroke-width="1.35" stroke-linejoin="round"/>
<path d="M385.75 350.80 L412.15 350.80 L412.45 401.83 L415.75 401.83 L416.05 449.08 L419.60 447.19 L419.90 401.20 L421.25 401.20 L421.55 386.08 L423.65 386.08 L423.95 433.96 L435.35 428.92 L435.65 363.40 L439.75 363.40 L440.05 392.38 L446.75 391.12 L447.05 293.47 L451.85 294.73 L452.15 357.42 L459.35 359.62 L459.60 311.74 L460.20 318.04 L459.65 318.04 L463.55 319.30 L463.85 372.85 L467.15 372.85 L467.45 357.42 L483.15 355.84 L483.45 408.44 L490.85 406.24 L491.15 391.75 L511.05 385.76 L511.35 438.37 L514.45 438.37 L514.75 385.13 L541.85 377.26" fill="none" stroke="#ff2fb4" stroke-width="1.25" stroke-linejoin="round" stroke-dasharray="3.6 2.6"/>
<line x1="385.60" y1="284.40" x2="385.60" y2="451.10" stroke="#9a9a9a" stroke-width="1.6" />
<line x1="384.80" y1="450.30" x2="542.00" y2="450.30" stroke="#9a9a9a" stroke-width="1.6" />
<line x1="385.60" y1="439.00" x2="388.10" y2="439.00" stroke="#555" stroke-width="0.8" />
<text transform="translate(380.40 443.20) scale(1.044 1)" font-size="11.40" text-anchor="end" >-10</text>
<line x1="385.60" y1="407.50" x2="388.10" y2="407.50" stroke="#555" stroke-width="0.8" />
<text transform="translate(380.40 411.70) scale(1.044 1)" font-size="11.40" text-anchor="end" >-5</text>
<line x1="385.60" y1="376.00" x2="388.10" y2="376.00" stroke="#555" stroke-width="0.8" />
<text transform="translate(380.40 380.20) scale(1.044 1)" font-size="11.40" text-anchor="end" >0</text>
<line x1="385.60" y1="344.50" x2="388.10" y2="344.50" stroke="#555" stroke-width="0.8" />
<text transform="translate(380.40 348.70) scale(1.044 1)" font-size="11.40" text-anchor="end" >5</text>
<line x1="385.60" y1="313.00" x2="388.10" y2="313.00" stroke="#555" stroke-width="0.8" />
<text transform="translate(380.40 317.20) scale(1.044 1)" font-size="11.40" text-anchor="end" >10</text>
<line x1="394.40" y1="450.30" x2="394.40" y2="447.80" stroke="#555" stroke-width="0.8" />
<line x1="423.12" y1="450.30" x2="423.12" y2="447.80" stroke="#555" stroke-width="0.8" />
<line x1="451.84" y1="450.30" x2="451.84" y2="447.80" stroke="#555" stroke-width="0.8" />
<line x1="480.56" y1="450.30" x2="480.56" y2="447.80" stroke="#555" stroke-width="0.8" />
<line x1="509.28" y1="450.30" x2="509.28" y2="447.80" stroke="#555" stroke-width="0.8" />
<line x1="538.00" y1="450.30" x2="538.00" y2="447.80" stroke="#555" stroke-width="0.8" />
<text transform="translate(395.80 467.80) scale(1.044 1)" font-size="11.40" text-anchor="middle" >13.16</text>
<text transform="translate(451.84 467.80) scale(1.044 1)" font-size="11.40" text-anchor="middle" >13.2</text>
<text transform="translate(509.28 467.80) scale(1.044 1)" font-size="11.40" text-anchor="middle" >13.24</text>
</svg>
</body></html>
